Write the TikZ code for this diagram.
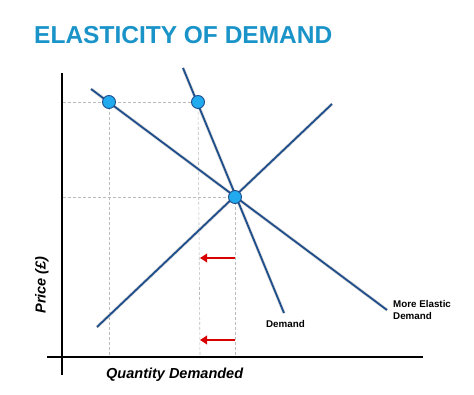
\documentclass[tikz,border=0pt]{standalone}
\usepackage{fontspec}
\setmainfont{Liberation Sans}
\usetikzlibrary{arrows.meta}
\definecolor{titleblue}{HTML}{1A93C8}
\definecolor{curveblue}{HTML}{1F4E8C}
\definecolor{dotblue}{HTML}{22AAEE}
\definecolor{guidegray}{HTML}{BBBBBB}
\tikzset{
  curve/.style={draw=curveblue, line width=1.8pt},
  curveshadow/.style={draw=black!15, line width=3.2pt},
  axis/.style={draw=black, line width=1.6pt},
  guide/.style={draw=guidegray, dashed, dash pattern=on 3pt off 2pt, line width=0.6pt},
  dot/.style={circle, fill=dotblue, draw=curveblue, line width=0.9pt, minimum size=13pt, inner sep=0pt},
  shiftarrow/.style={draw=red!85!black, line width=2.6pt, -{Triangle[length=7pt,width=8.5pt]}},
  lab/.style={font=\bfseries\fontsize{9.8}{11}\selectfont, align=left, inner sep=0pt},
  axlab/.style={inner sep=0pt, font=\bfseries\itshape\fontsize{14.5}{16}\selectfont}
}
\begin{document}
\begin{tikzpicture}[x=1pt,y=-1pt]
\useasboundingbox (0,0) rectangle (474,395);
% title
\node[anchor=base west, inner sep=0pt, text=titleblue, font=\bfseries\fontsize{24.5}{27}\selectfont] (title) at (34,44) {ELASTICITY OF DEMAND};
% coordinates
\coordinate (yt) at (62,73);
\coordinate (yb) at (62,375);
\coordinate (xl) at (47,357);
\coordinate (xr) at (423,357);
\coordinate (A) at (109,102);
\coordinate (B) at (198,102);
\coordinate (E) at (235,197);
\coordinate (yA) at (63,102);
\coordinate (yE) at (63,197);
\coordinate (qA) at (109,357);
\coordinate (qB) at (200,357);
\coordinate (qE) at (235,357);
\coordinate (dTop) at (183,68);
\coordinate (dBot) at (284,313);
\coordinate (mTop) at (91,89);
\coordinate (mBot) at (387,310);
\coordinate (sBot) at (97,327);
\coordinate (sTop) at (332,104);
\coordinate (a1s) at (235,258);
\coordinate (a1e) at (200,258);
\coordinate (a2s) at (235,340);
\coordinate (a2e) at (200,340);
% guides
\draw[guide] (yA) -- (B);
\draw[guide] (yE) -- (E);
\draw[guide] (A) -- (qA);
\draw[guide] (B) -- (qB);
\draw[guide] (E) -- (qE);
% shadows
\begin{scope}[shift={(1.5,1.5)}]
\draw[curveshadow] (dTop) -- (dBot);
\draw[curveshadow] (mTop) -- (mBot);
\draw[curveshadow] (sBot) -- (sTop);
\end{scope}
% curves
\draw[curve] (dTop) -- (dBot);
\draw[curve] (mTop) -- (mBot);
\draw[curve] (sBot) -- (sTop);
% axes
\draw[axis] (yt) -- (yb);
\draw[axis] (xl) -- (xr);
% dots
\node[dot] (dA) at (A) {};
\node[dot] (dB) at (B) {};
\node[dot] (dE) at (E) {};
% arrows
\draw[shiftarrow] (a1s) -- (a1e);
\draw[shiftarrow] (a2s) -- (a2e);
% labels
\node[lab, anchor=base] (ldem) at (285.5,328) {Demand};
\node[lab, anchor=base west] (lmore) at (393,308) {More Elastic};
\node[lab, anchor=base west] (lmore2) at (393,319.5) {Demand};
\node[axlab, anchor=base west] (xlab) at (106,378) {Quantity Demanded};
\node[axlab, rotate=90] (ylab) at (42,285) {Price (£)};
\end{tikzpicture}
\end{document}
